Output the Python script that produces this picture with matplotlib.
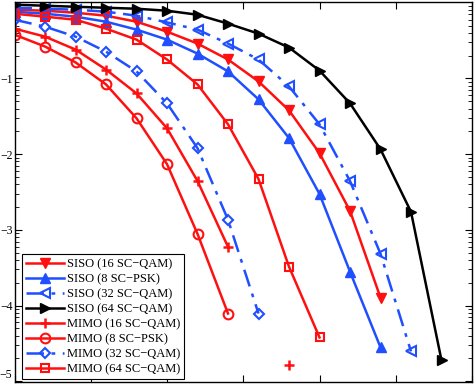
import numpy as np
import matplotlib
matplotlib.use("Agg")
import matplotlib.pyplot as plt
from matplotlib.ticker import LogLocator, FuncFormatter, NullFormatter, MultipleLocator

nan = np.nan
snr = np.arange(0, 29, 2)

# BER (log axis)
siso_16qam = [0.809, 0.785, 0.738, 0.675, 0.562, 0.415, 0.289, 0.178, 0.0914, 0.0379, 0.0103, 1.78e-3, 1.27e-4, nan, nan]
siso_8psk = [0.762, 0.716, 0.655, 0.562, 0.442, 0.326, 0.213, 0.124, 0.053, 0.0163, 2.98e-3, 2.8e-4, 2.8e-5, nan, nan]
siso_32qam = [0.859, 0.834, 0.809, 0.762, 0.675, 0.55, 0.442, 0.289, 0.178, 0.0785, 0.0248, 4.42e-3, 4.83e-4, 2.48e-5, nan]
siso_64qam = [0.942, 0.914, 0.885, 0.859, 0.834, 0.785, 0.695, 0.53, 0.391, 0.256, 0.127, 0.0469, 0.0116, 1.73e-3, 1.89e-5]
mimo_16qam = [0.455, 0.357, 0.241, 0.131, 0.0635, 0.022, 4.42e-3, 5.97e-4, nan, 1.63e-5, nan, nan, nan, nan, nan]
mimo_8psk = [0.379, 0.264, 0.163, 0.0834, 0.0298, 7.38e-3, 8.85e-4, 7.85e-5, nan, nan, nan, nan, nan, nan, nan]
mimo_32qam = [0.597, 0.483, 0.357, 0.226, 0.124, 0.0469, 0.012, 1.36e-3, 7.85e-5, nan, nan, nan, nan, nan, nan]
mimo_64qam = [0.716, 0.655, 0.597, 0.455, 0.326, 0.178, 0.0834, 0.0248, 4.69e-3, 3.26e-4, 3.79e-5, nan, nan, nan, nan]
decades = [1e-1, 1e-2, 1e-3, 1e-4, 1e-5]

red = "#ff1010"
blue = "#1f4fff"
dashdot = (0, (7, 3, 1.5, 3))

plt.rcParams["font.family"] = ["Liberation Serif", "DejaVu Serif"]

fig = plt.figure(figsize=(4.74, 3.84), dpi=100)
ax = fig.add_axes([14.5 / 474, 2.0 / 384, 457.5 / 474, 380.0 / 384])

lw = 1.8
ms = 7
ax.plot(snr, siso_16qam, "-v", color=red, lw=lw, ms=ms, mfc=red, label="SISO (16 SC\u2212QAM)")
ax.plot(snr, siso_8psk, "-^", color=blue, lw=lw, ms=ms, mfc=blue, label="SISO (8 SC\u2212PSK)")
ax.plot(snr, siso_32qam, marker="<", ls=dashdot, color=blue, lw=lw, ms=ms, mfc="none", mew=1.5, label="SISO (32 SC\u2212QAM)")
ax.plot(snr, siso_64qam, "->", color="black", lw=lw, ms=ms, mfc="black", label="SISO (64 SC\u2212QAM)")
ax.plot(snr, mimo_16qam, "-+", color=red, lw=lw, ms=ms, mew=1.8, label="MIMO (16 SC\u2212QAM)")
ax.plot(snr, mimo_8psk, "-o", color=red, lw=lw, ms=ms, mfc="none", mew=1.5, label="MIMO (8 SC\u2212PSK)")
ax.plot(snr, mimo_32qam, marker="D", ls=dashdot, color=blue, lw=lw, ms=5.5, mfc="none", mew=1.5, label="MIMO (32 SC\u2212QAM)")
ax.plot(snr, mimo_64qam, "-s", color=red, lw=lw, ms=6, mfc="none", mew=1.5, label="MIMO (64 SC\u2212QAM)")

ax.set_yscale("log")
ax.set_ylim(10 ** -5.01, 10 ** 0.01)
ax.set_xlim(0, 30)
ax.xaxis.set_major_locator(MultipleLocator(5))
ax.set_xticklabels([])
ax.set_yticks(decades)
ax.yaxis.set_minor_locator(LogLocator(base=10, subs=np.arange(2, 10), numticks=20))
ax.yaxis.set_minor_formatter(NullFormatter())
ax.yaxis.set_major_formatter(FuncFormatter(lambda v, p: "\u2212%d" % round(-np.log10(v))))

ax.tick_params(which="both", direction="in", top=True, right=True, labelsize=8.5, pad=1.5)
ax.tick_params(which="major", length=5, width=0.8)
ax.tick_params(which="minor", length=3, width=0.6)
for s in ax.spines.values():
    s.set_linewidth(1.0)

leg = ax.legend(loc="lower left", bbox_to_anchor=(0.016, 0.008), borderaxespad=0,
                fontsize=9, handlelength=3.1, handletextpad=0.25, labelspacing=0.24,
                borderpad=0.3, fancybox=False, framealpha=1, edgecolor="black")
leg.get_frame().set_linewidth(0.8)

# lowest label sits above its tick so it stays inside the picture
fig.canvas.draw()
ax.get_yticklabels()[-1].set_va("bottom")

fig.savefig("out.png", dpi=100)
